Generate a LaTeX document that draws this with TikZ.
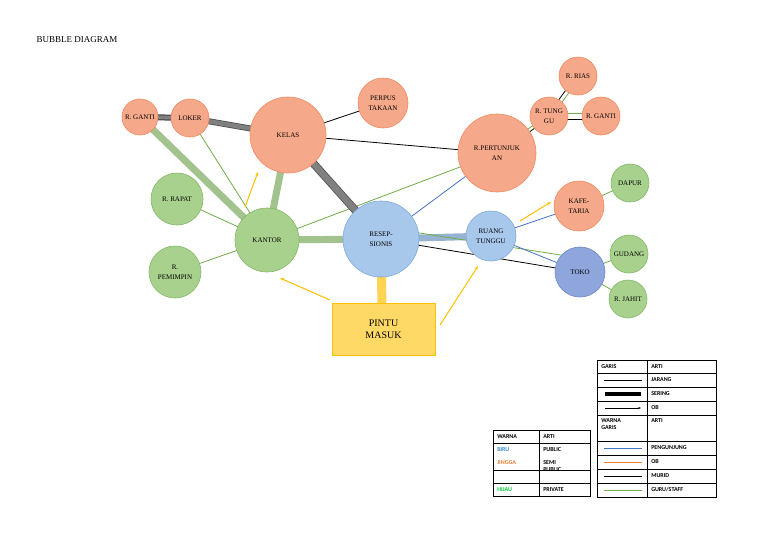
\documentclass[tikz,border=0pt]{standalone}
\usepackage{fontspec}
\setmainfont{Liberation Serif}
\newfontfamily\legfont{Carlito}
\usetikzlibrary{arrows.meta}
\definecolor{orf}{HTML}{F6A98A}\definecolor{ord}{HTML}{F08A60}
\definecolor{grf}{HTML}{A9D18E}\definecolor{grd}{HTML}{82B866}
\definecolor{blf}{HTML}{A7C7EB}\definecolor{bld}{HTML}{7FA9DC}
\definecolor{tkf}{HTML}{8FA6DC}\definecolor{tkd}{HTML}{6A86CC}
\definecolor{yel}{HTML}{FFC000}\definecolor{yelf}{HTML}{FFD966}
\definecolor{lblue}{HTML}{4472C4}\definecolor{lgreen}{HTML}{70AD47}
\definecolor{lorange}{HTML}{ED7D31}
\tikzset{
 bub/.style={circle,draw,line width=0.6pt,inner sep=0pt,font=\fontsize{7}{10}\selectfont,align=center},
 o/.style={bub,fill=orf,draw=ord},
 g/.style={bub,fill=grf,draw=grd},
 b/.style={bub,fill=blf,draw=bld},
 thg/.style={line width=7pt,draw=grf!90!black!90},
 thb/.style={line width=7pt,draw=blf!90!black},
 tg/.style={lgreen,line width=0.8pt},
 tb/.style={lblue,line width=0.8pt},
 tk/.style={black,line width=0.8pt},
 ya/.style={yel,line width=1pt,-{Stealth[length=4pt]}},
 lt/.style={font=\legfont\bfseries\fontsize{6}{7}\selectfont,anchor=west,inner sep=0pt}
}
\begin{document}
\begin{tikzpicture}[x=1pt,y=-1pt]
\useasboundingbox (0,0) rectangle (768,544);
\fill[white] (0,0) rectangle (768,544);
\node[anchor=west,font=\fontsize{9}{10}\selectfont] (title) at (33,40) {BUBBLE DIAGRAM};
% coordinates
\coordinate (cRG) at (140,117);\coordinate (cLK) at (190,118);\coordinate (cKL) at (288,135);
\coordinate (cPP) at (383,103);\coordinate (cPT) at (497,153);\coordinate (cRS) at (578,76);
\coordinate (cTG) at (549,116);\coordinate (cRG2) at (601,116);\coordinate (cKF) at (579,206);
\coordinate (cDP) at (630,183);\coordinate (cRT) at (491,236);\coordinate (cTK) at (580,272);
\coordinate (cGD) at (629,254);\coordinate (cJH) at (628,299);\coordinate (cRE) at (381,239);
\coordinate (cKT) at (267,240);\coordinate (cRP) at (177,199);\coordinate (cPM) at (175,272);
% connectors (behind)
\draw[thg] (cKT)--(cRG);
\draw[tg] (cKT)--(cLK);
\draw[thg] (cKT)--(cKL);
\draw[tg] (cKT)--(cRP);\draw[tg] (cKT)--(cPM);
\draw[tg] (cKT)--(cPT);
\draw[thg] (cKT)--(cRE);
\draw[line width=6pt,black!70] (cRG)--(cLK);\draw[line width=3.5pt,gray] (cRG)--(cLK);
\draw[line width=6pt,black!70] (cLK)--(cKL);\draw[line width=4.5pt,gray] (cLK)--(cKL);
\draw[line width=8pt,black!70] (cKL)--(cRE);\draw[line width=6.5pt,gray] (cKL)--(cRE);
\draw[tk] (cKL)--(cPP);\draw[tk] (cKL)--(cPT);
\draw[tb] (cRE)--(cPT);
\draw[tk] ([yshift=-2]cPT)--([yshift=-2]cTG);\draw[tg] ([yshift=2]cPT)--([yshift=2]cTG);
\draw[tk] ([xshift=-2]cTG)--([xshift=-2]cRS);\draw[tg] ([xshift=3]cTG)--([xshift=3]cRS);
\draw[tk] ([yshift=-3]cTG)--([yshift=-3]cRG2);\draw[tg] ([yshift=3]cTG)--([yshift=3]cRG2);
\draw[thb] (cRE)--(cRT);
\draw[tk] (cRE)--(cTK);
\draw[tg] ([yshift=12]cRE)--([yshift=14]cTK);
\draw[tb] (cRT)--(cKF);\draw[tb] (cRT)--(cTK);
\draw[tg] (cKF)--(cDP);\draw[tg] (cTK)--(cGD);\draw[tg] (cTK)--(cJH);
\draw[line width=9pt,yelf!80!yel] (cRE)--(382,310);
% bubbles
\node[o,minimum size=36] (rg) at (cRG) {R. GANTI};
\node[o,minimum size=38] (lk) at (cLK) {LOKER};
\node[o,minimum size=76] (kl) at (cKL) {KELAS};
\node[o,minimum size=50] (pp) at (cPP) {PERPUS\\TAKAAN};
\node[o,minimum size=78] (pt) at (cPT) {R.PERTUNJUK\\AN};
\node[o,minimum size=38] (rs) at (cRS) {R. RIAS};
\node[o,minimum size=38] (tg) at (cTG) {R. TUNG\\GU};
\node[o,minimum size=38] (rg2) at (cRG2) {R. GANTI};
\node[o,minimum size=50] (kf) at (cKF) {KAFE-\\TARIA};
\node[g,minimum size=38] (dp) at (cDP) {DAPUR};
\node[b,minimum size=50] (rt) at (cRT) {RUANG\\TUNGGU};
\node[bub,fill=tkf,draw=tkd,minimum size=50] (tk) at (cTK) {TOKO};
\node[g,minimum size=38] (gd) at (cGD) {GUDANG};
\node[g,minimum size=38] (jh) at (cJH) {R. JAHIT};
\node[b,minimum size=76] (re) at (cRE) {RESEP-\\SIONIS};
\node[g,minimum size=64] (kt) at (cKT) {KANTOR};
\node[g,minimum size=52] (rp) at (cRP) {R. RAPAT};
\node[g,minimum size=52] (pm) at (cPM) {R.\\PEMIMPIN};
\node[draw=yel,fill=yelf,line width=0.8pt,minimum width=103,minimum height=52,align=center,font=\fontsize{10}{12}\selectfont] (pin) at (383.5,329) {PINTU\\MASUK};
% yellow arrows
\coordinate (a1s) at (245,207);\coordinate (a1e) at (258,172);
\coordinate (a2s) at (330,300);\coordinate (a2e) at (280,278);
\coordinate (a3s) at (440,325);\coordinate (a3e) at (478,266);
\coordinate (a4s) at (520,221);\coordinate (a4e) at (551,202);
\draw[ya] (a1s)--(a1e);\draw[ya] (a2s)--(a2e);\draw[ya] (a3s)--(a3e);\draw[ya] (a4s)--(a4e);
% legend right
\begin{scope}[line width=0.5pt]
\draw (597,360) rectangle (716,497);
\foreach \y in {373,387,401,415,441,455,469,483} \draw (597,\y)--(716,\y);
\draw (647,360)--(647,497);
\node[lt] (l1) at (601,366.5) {GARIS};\node[lt] (l2) at (651,366.5) {ARTI};
\draw[line width=0.8pt] (604,380)--(642,380);\node[lt] (l3) at (651,380) {JARANG};
\draw[line width=4pt] (605,394)--(641,394);\node[lt] (l4) at (651,394) {SERING};
\draw[line width=0.6pt,-{Stealth[length=3pt]}] (605,408)--(641,408);\node[lt] (l5) at (651,408) {OB};
\node[lt,align=left,anchor=north west] (l6) at (601,418) {WARNA\\GARIS};\node[lt,anchor=north west] (l7) at (651,418) {ARTI};
\draw[tb] (604,448)--(642,448);\node[lt] (l8) at (651,448) {PENGUNJUNG};
\draw[lorange,line width=0.8pt] (604,462)--(642,462);\node[lt] (l9) at (651,462) {OB};
\draw[tk] (604,476)--(642,476);\node[lt] (l10) at (651,476) {MURID};
\draw[tg] (604,490)--(642,490);\node[lt] (l11) at (651,490) {GURU/STAFF};
% legend left
\draw (493,430) rectangle (590,496);
\foreach \y in {443,470,483} \draw (493,\y)--(590,\y);
\draw (539,430)--(539,496);
\node[lt] (m1) at (497,436.5) {WARNA};\node[lt] (m2) at (543,436.5) {ARTI};
\node[lt,text=lblue!80!cyan] (m3) at (497,449.5) {BIRU};\node[lt] (m4) at (543,449.5) {PUBLIC};
\node[lt,text=lorange] (m5) at (497,463) {JINGGA};\node[lt,align=left,anchor=north west] (m6) at (543,460) {SEMI\\PUBLIC};
\node[lt,text=green!60!teal] (m7) at (497,489.5) {HIJAU};\node[lt] (m8) at (543,489.5) {PRIVATE};
\end{scope}
\end{tikzpicture}
\end{document}
